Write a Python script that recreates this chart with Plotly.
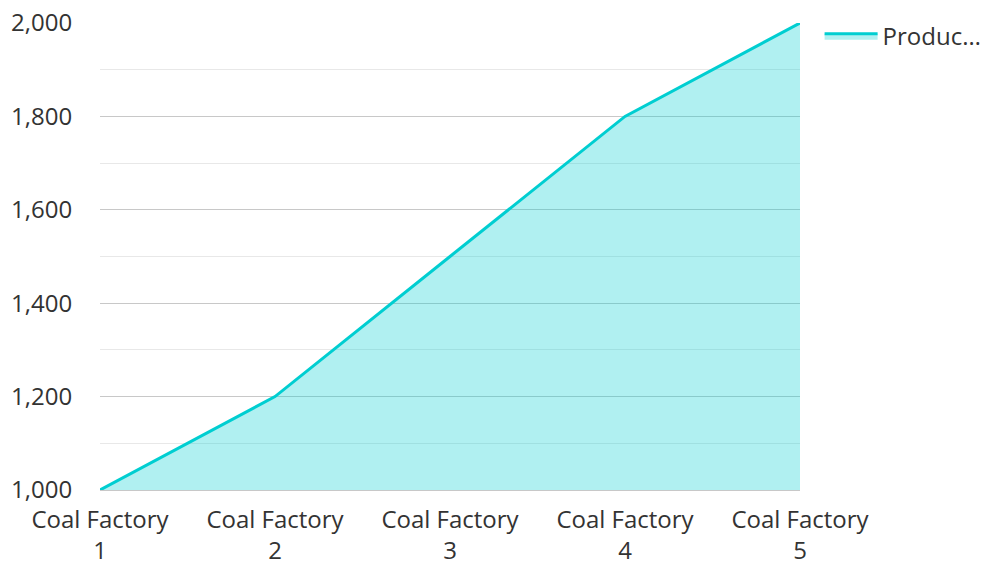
import plotly.graph_objects as go

categories = ["Coal Factory<br>1", "Coal Factory<br>2", "Coal Factory<br>3", "Coal Factory<br>4", "Coal Factory<br>5"]
production = [1000, 1200, 1500, 1800, 2000]
series_name = "Produc…"

fig = go.Figure()
fig.add_trace(go.Scatter(
    x=categories, y=production, name=series_name,
    mode="lines", fill="tozeroy",
    line=dict(color="#00CED1", width=3),
    fillcolor="rgba(0,206,209,0.31)",
))

fig.update_layout(
    width=988, height=562,
    margin=dict(l=100, r=188, t=23, b=72, autoexpand=False),
    paper_bgcolor="white", plot_bgcolor="white",
    font=dict(family="Open Sans", size=24, color="#333333"),
    showlegend=True,
    legend=dict(x=1.028, y=1.02, xanchor="left", yanchor="top",
                font=dict(size=24, color="#333333"), itemwidth=53,
                bgcolor="rgba(0,0,0,0)"),
    xaxis=dict(
        type="category", range=[0, 4], showgrid=False, zeroline=False,
        showline=True, linecolor="#c8c8c8", linewidth=1, automargin=False,
        ticks="outside", ticklen=0, ticklabelstandoff=8,
        tickfont=dict(size=24, color="#333333"),
    ),
    yaxis=dict(
        range=[1000, 2000], dtick=200, tickformat=",d", automargin=False,
        showgrid=True, gridcolor="#c8c8c8", gridwidth=1, zeroline=False,
        minor=dict(dtick=100, showgrid=True, gridcolor="#e8e8e8"),
        ticks="outside", ticklen=0, ticklabelstandoff=22,
        tickfont=dict(size=24, color="#333333"),
    ),
)

fig.write_html("out.html")
